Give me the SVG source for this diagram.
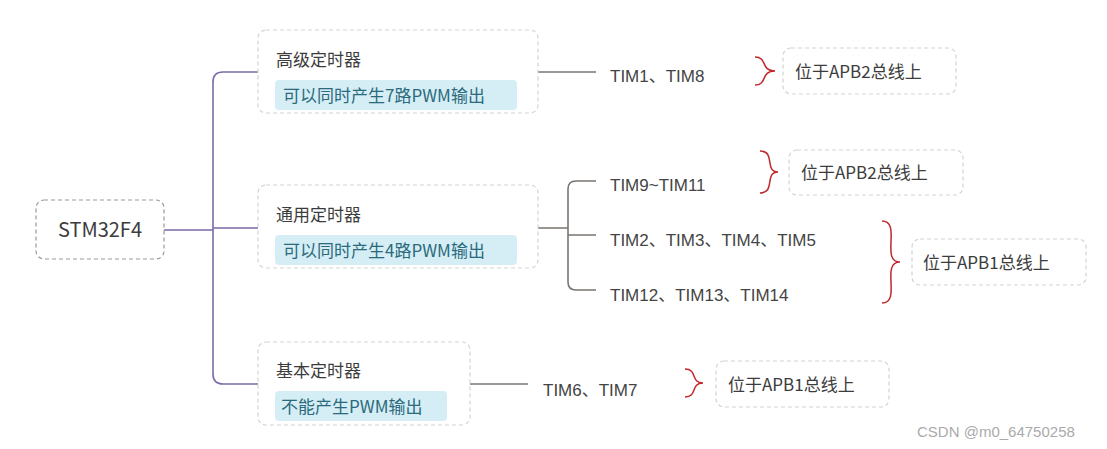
<svg xmlns="http://www.w3.org/2000/svg" width="1107" height="449" viewBox="0 0 1107 449">
<style>
.box{fill:#fff;stroke:#d3d3d3;stroke-dasharray:4 3;stroke-width:1.2}
.root{fill:#fff;stroke:#9a9a9a;stroke-dasharray:4 3;stroke-width:1.2}
.t{font-family:"Noto Sans CJK SC","Liberation Sans",sans-serif;font-size:17px;fill:#3c3c3c}
.h{fill:#d5eef5}
.ht{font-family:"Noto Sans CJK SC","Liberation Sans",sans-serif;font-size:17px;fill:#2b6a7c}
.leaf{font-family:"Liberation Sans","Noto Sans CJK SC",sans-serif;font-size:17px;fill:#444}
.p{fill:none;stroke:#7b6aa8;stroke-width:1.6}
.g{fill:none;stroke:#7a7570;stroke-width:1.6}
.br{fill:none;stroke:#c0282d;stroke-width:1.5}
</style>
<rect width="1107" height="449" fill="#fff"/>
<g id="connectors">
<path class="p" d="M164,230 H213 M258,72 H223 Q213,72 213,82 V374 Q213,384 223,384 H258 M213,228 H258"/>
<path class="g" d="M538,72 H596"/>
<path class="g" d="M538,228 H568 M596,181 H576 Q568,181 568,189 V282 Q568,290 576,290 H596 M568,235 H596"/>
<path class="g" d="M470,384 H528"/>
<path class="br" d="M755,57 C768,57 760,71 775,71 C760,71 768,85 755,85"/>
<path class="br" d="M760,151 C776,151 764,172 778,172 C764,172 776,193 760,193"/>
<path class="br" d="M882,221 C902,221 880,262 900,262 C880,262 902,303 882,303"/>
<path class="br" d="M685,369 C698,369 690,383 703,383 C690,383 698,397 685,397"/>
</g>
<g id="root"><rect class="root" x="36" y="200" width="128" height="59" rx="8"/><text class="t" x="100" y="237" text-anchor="middle" font-size="20" style="font-size:20px">STM32F4</text></g>
<g id="n1"><rect class="box" x="258" y="30" width="280" height="83" rx="8"/><text class="t" x="276" y="66">高级定时器</text><rect class="h" x="275" y="80" width="242" height="30" rx="4"/><text class="ht" x="283" y="102">可以同时产生7路PWM输出</text></g>
<g id="n2"><rect class="box" x="258" y="185" width="280" height="83" rx="8"/><text class="t" x="276" y="221">通用定时器</text><rect class="h" x="275" y="235" width="242" height="30" rx="4"/><text class="ht" x="283" y="257">可以同时产生4路PWM输出</text></g>
<g id="n3"><rect class="box" x="258" y="342" width="212" height="83" rx="8"/><text class="t" x="276" y="377">基本定时器</text><rect class="h" x="275" y="391" width="172" height="30" rx="4"/><text class="ht" x="281" y="413">不能产生PWM输出</text></g>
<g id="l1"><text class="leaf" x="610" y="82">TIM1、TIM8</text></g>
<g id="l2"><text class="leaf" x="610" y="191">TIM9~TIM11</text></g>
<g id="l3"><text class="leaf" x="610" y="246">TIM2、TIM3、TIM4、TIM5</text></g>
<g id="l4"><text class="leaf" x="610" y="301">TIM12、TIM13、TIM14</text></g>
<g id="l5"><text class="leaf" x="543" y="396">TIM6、TIM7</text></g>
<g id="b1"><rect class="box" x="783" y="48" width="173" height="46" rx="8"/><text class="t" x="795" y="78">位于APB2总线上</text></g>
<g id="b2"><rect class="box" x="789" y="150" width="174" height="45" rx="8"/><text class="t" x="801" y="179">位于APB2总线上</text></g>
<g id="b3"><rect class="box" x="912" y="239" width="174" height="46" rx="8"/><text class="t" x="923" y="269">位于APB1总线上</text></g>
<g id="b4"><rect class="box" x="716" y="361" width="173" height="46" rx="8"/><text class="t" x="728" y="391">位于APB1总线上</text></g>
<text x="917" y="437" style="font-family:'Liberation Sans',sans-serif;font-size:15px;fill:#aaa">CSDN @m0_64750258</text>
</svg>
